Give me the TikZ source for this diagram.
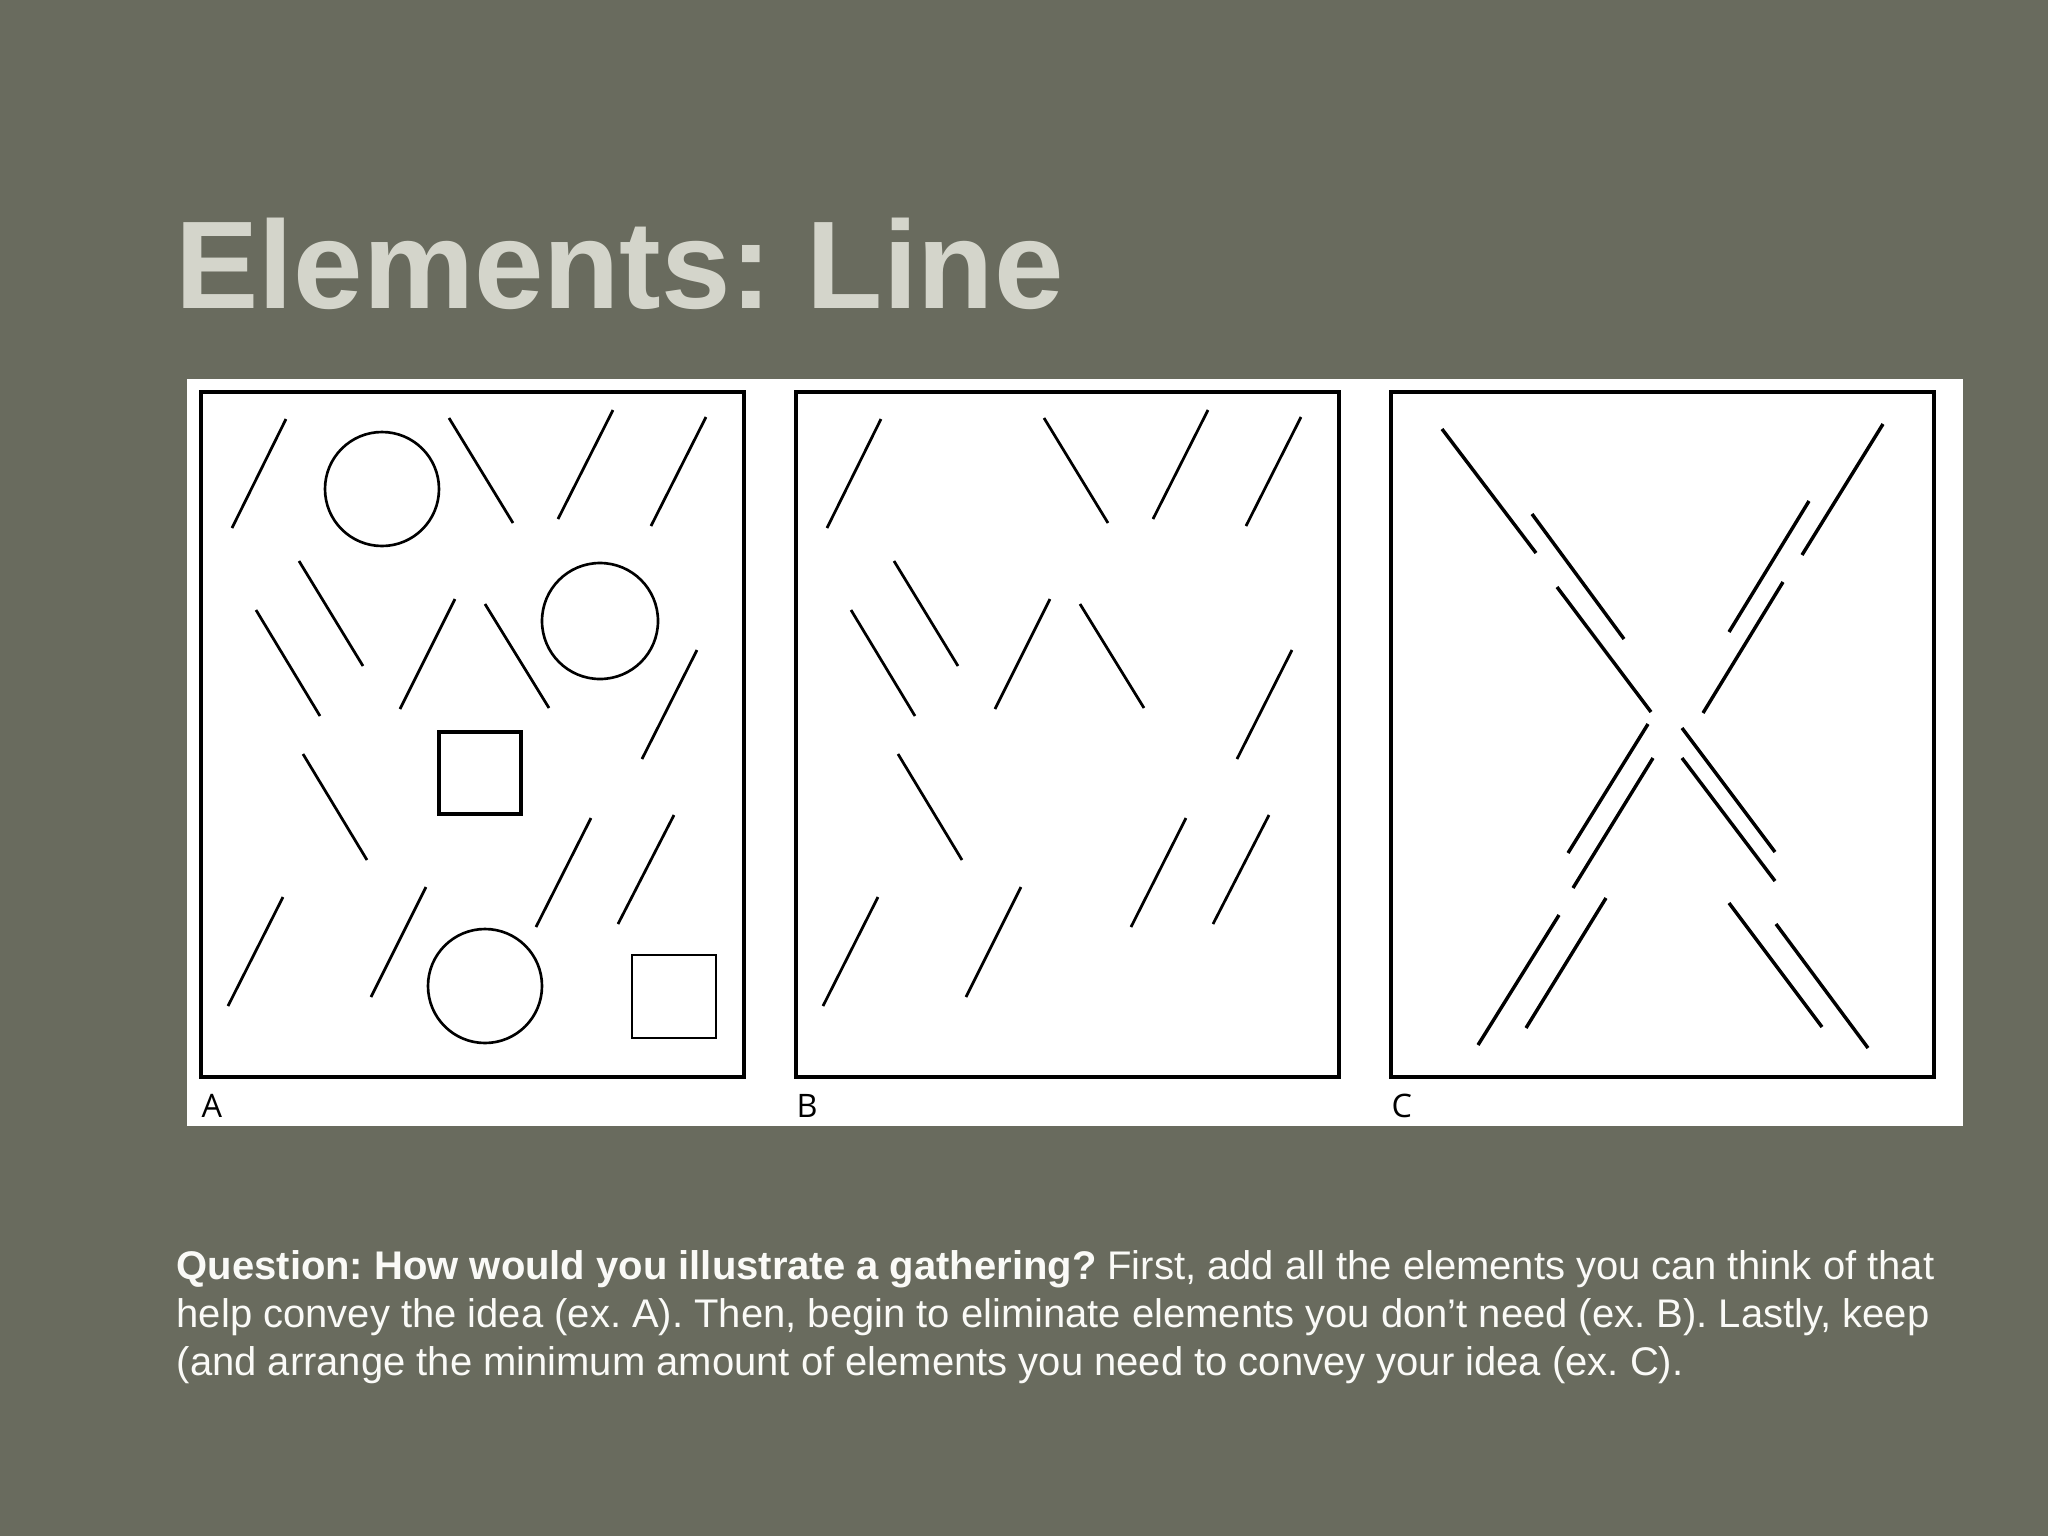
\documentclass[tikz,border=0pt]{standalone}
\usepackage{fontspec}
\setmainfont{Liberation Sans}
\newfontfamily\labelfont{Open Sans}
\usepackage{tikz}
\usetikzlibrary{calc}
\definecolor{slide}{RGB}{105,107,94}
\definecolor{titlegray}{RGB}{212,213,203}
\definecolor{bodywhite}{RGB}{250,250,247}
\tikzset{
   panelbox/.style={draw=black, line width=0.95pt},
   sketchline/.style={draw=black, line width=0.78pt},
   crossline/.style={draw=black, line width=0.98pt},
   ring/.style={draw=black, line width=0.75pt},
   panellabel/.style={anchor=base west, inner sep=0pt, font=\labelfont\fontsize{9.2}{11}\selectfont}
}
\frenchspacing
\begin{document}
\begin{tikzpicture}[x=0.01cm, y=-0.01cm,
                    sqthick/.style={draw=black, line width=1.2pt},
                    sqthin/.style={draw=black, line width=0.7pt}]
\fill[slide] (0,0) rectangle (2048,1536);
\useasboundingbox (0,0) rectangle (2048,1536);
%
\node[anchor=base west, inner sep=0pt, text=titlegray,
      font=\bfseries\fontsize{35.5}{40}\selectfont] (title) at (175,308) {Elements: Line};
%
\fill[white] (187,379) rectangle (1963,1126);
%
% A: everything
\begin{scope}[shift={(201,392)}]
\draw[panelbox, line width=1.37pt] (0,0) rectangle (543,685);
\node[panellabel] (labA) at (0,725) {A};
\draw[sketchline] (31,136) -- (85,27);
\draw[ring] (181,97) circle[radius=57];
\draw[sketchline] (248,26) -- (312,131);
\draw[sketchline] (357,127) -- (412,18);
\draw[sketchline] (450,134) -- (505,25);
\draw[sketchline] (98,169) -- (162,274);
\draw[sketchline] (55,218) -- (119,324);
\draw[sketchline] (199,317) -- (254,207);
\draw[sketchline] (284,212) -- (348,316);
\draw[ring] (399,229) circle[radius=58];
\draw[sketchline] (441,367) -- (496,258);
\draw[sqthick] (238,340) rectangle (320,422);
\draw[sketchline] (102,362) -- (166,468);
\draw[sketchline] (335,535) -- (390,426);
\draw[sketchline] (417,532) -- (473,423);
\draw[sketchline] (27,614) -- (82,505);
\draw[sketchline] (170,605) -- (225,495);
\draw[ring] (284,594) circle[radius=57];
\draw[sqthin] (431,563) rectangle (515,646);
\end{scope}
%
% B: shapes taken away
\begin{scope}[shift={(796,392)}]
\draw[panelbox] (0,0) rectangle (543,685);
\node[panellabel] (labB) at (0,725) {B};
\draw[sketchline] (31,136) -- (85,27);
\draw[sketchline] (248,26) -- (312,131);
\draw[sketchline] (357,127) -- (412,18);
\draw[sketchline] (450,134) -- (505,25);
\draw[sketchline] (98,169) -- (162,274);
\draw[sketchline] (55,218) -- (119,324);
\draw[sketchline] (199,317) -- (254,207);
\draw[sketchline] (284,212) -- (348,316);
\draw[sketchline] (441,367) -- (496,258);
\draw[sketchline] (102,362) -- (166,468);
\draw[sketchline] (335,535) -- (390,426);
\draw[sketchline] (417,532) -- (473,423);
\draw[sketchline] (27,614) -- (82,505);
\draw[sketchline] (170,605) -- (225,495);
\end{scope}
%
% C: lines gathered into a cross
\begin{scope}[shift={(1391,392)}]
\draw[panelbox] (0,0) rectangle (543,685);
\node[panellabel] (labC) at (0,725) {C};
\draw[crossline] (51,37) -- (145,161);
\draw[crossline] (141,122) -- (233,247);
\draw[crossline] (166,195) -- (260,320);
\draw[crossline] (492,32) -- (411,163);
\draw[crossline] (418,109) -- (338,240);
\draw[crossline] (392,190) -- (312,321);
\draw[crossline] (257,332) -- (177,461);
\draw[crossline] (262,366) -- (182,496);
\draw[crossline] (291,336) -- (384,460);
\draw[crossline] (291,366) -- (384,489);
\draw[crossline] (168,523) -- (87,653);
\draw[crossline] (215,506) -- (135,636);
\draw[crossline] (338,511) -- (431,635);
\draw[crossline] (385,532) -- (477,656);
\end{scope}
%
% base of a multi-line node is its last line
\node[anchor=base west, inner sep=0pt, align=left, text=bodywhite,
      font=\fontsize{11.37}{13.6}\selectfont] (question) at (176,1375)
  {\textbf{Question: How would you illustrate a gathering?} First, add all the elements you can think of that\\
   help convey the idea (ex. A). Then, begin to eliminate elements you don’t need (ex. B). Lastly, keep\\
   (and arrange the minimum amount of elements you need to convey your idea (ex. C).};
\end{tikzpicture}
\end{document}
